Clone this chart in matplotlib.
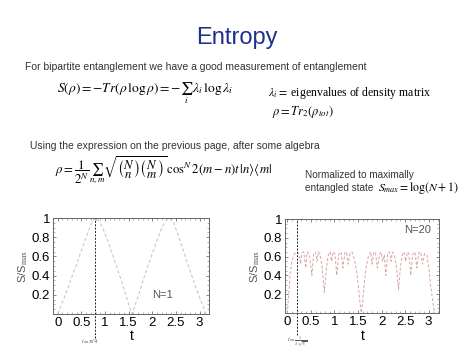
import matplotlib
matplotlib.use("Agg")
from matplotlib import pyplot as plt

plt.rcParams['font.family'] = ['Liberation Sans', 'DejaVu Sans']
plt.rcParams['mathtext.fontset'] = 'stix'

# N=1 curve
t1 = [0.0, 0.1, 0.2, 0.3, 0.4, 0.5, 0.6, 0.7, 0.785, 0.87, 0.95, 1.05, 1.15, 1.25, 1.35, 1.45, 1.52, 1.57,
      1.62, 1.7, 1.8, 1.9, 2.0, 2.1, 2.2, 2.3, 2.36, 2.45, 2.55, 2.65, 2.75, 2.85, 2.95, 3.05, 3.14]
s1 = [0.0, 0.12, 0.25, 0.39, 0.52, 0.66, 0.8, 0.93, 1.0, 0.97, 0.9, 0.77, 0.63, 0.49, 0.34, 0.18, 0.07, 0.0,
      0.07, 0.18, 0.34, 0.49, 0.63, 0.77, 0.9, 0.98, 1.0, 0.95, 0.82, 0.67, 0.52, 0.38, 0.24, 0.11, 0.0]

# N=20 curve
t20 = [0.0, 0.03, 0.06, 0.1, 0.15, 0.2, 0.25, 0.28, 0.31, 0.35, 0.39, 0.42, 0.47, 0.52, 0.56, 0.6, 0.63,
       0.66, 0.7, 0.74, 0.785, 0.83, 0.87, 0.91, 0.94, 0.97, 1.01, 1.05, 1.09, 1.14, 1.18, 1.22, 1.26, 1.29,
       1.33, 1.37, 1.42, 1.47, 1.51, 1.54, 1.57,
       1.6, 1.63, 1.67, 1.72, 1.77, 1.8, 1.83, 1.87, 1.91, 1.96, 1.99, 2.02, 2.06, 2.09, 2.13, 2.17,
       2.2, 2.23, 2.28, 2.32, 2.36, 2.4, 2.44, 2.48, 2.51, 2.55, 2.58, 2.62, 2.66, 2.71, 2.75, 2.79,
       2.83, 2.87, 2.91, 2.96, 3.0, 3.04, 3.08, 3.11, 3.14]
s20 = [0.0, 0.2, 0.42, 0.56, 0.63, 0.65, 0.63, 0.52, 0.64, 0.65, 0.48, 0.65, 0.62, 0.4, 0.63, 0.65, 0.55,
       0.65, 0.62, 0.48, 0.22, 0.48, 0.62, 0.65, 0.55, 0.65, 0.63, 0.4, 0.62, 0.65, 0.48, 0.64, 0.65, 0.52,
       0.63, 0.65, 0.58, 0.45, 0.28, 0.12, 0.0,
       0.12, 0.3, 0.48, 0.6, 0.65, 0.52, 0.64, 0.65, 0.48, 0.63, 0.65, 0.55, 0.62, 0.4, 0.63, 0.65,
       0.55, 0.65, 0.6, 0.48, 0.25, 0.48, 0.62, 0.65, 0.55, 0.65, 0.63, 0.4, 0.62, 0.65, 0.48, 0.64,
       0.65, 0.52, 0.63, 0.62, 0.5, 0.3, 0.15, 0.05, 0.0]

xticks = [0, 0.5, 1, 1.5, 2, 2.5, 3]
xticklabels = ["0", "0.5", "1", "1.5", "2", "2.5", "3"]
yticks = [0.2, 0.4, 0.6, 0.8, 1]
yticklabels = ["0.2", "0.4", "0.6", "0.8", "1"]

W, H = 474, 355
fig = plt.figure(figsize=(4.74, 3.55), dpi=100)


def fx(px):
    return px / W


def fy(py):
    return 1 - py / H


txt = '#333333'
fig.text(fx(237), fy(38), "Entropy", fontsize=17, color='#1f2f8f', ha='center', va='center')
fig.text(fx(25), fy(67), "For bipartite entanglement we have a good measurement of entanglement",
         fontsize=7.5, color=txt, va='center')
fig.text(fx(57), fy(93), r"$S(\rho)=-Tr(\rho\,\log\rho)=-\sum_i\,\lambda_i\,\log\lambda_i$",
         fontsize=9.7, va='center', color='black')
fig.text(fx(268), fy(93), r"$\lambda_i=$ eigenvalues of density matrix", fontsize=8.5, va='center',
         family='Liberation Serif', color='black')
fig.text(fx(272), fy(112), r"$\rho=Tr_2(\rho_{tot})$", fontsize=9, va='center', color='black')
fig.text(fx(30), fy(146), "Using the expression on the previous page, after some algebra",
         fontsize=7.5, color=txt, va='center')
fig.text(fx(55), fy(170),
         r"$\rho=\genfrac{}{}{0.5}{0}{1}{2^N}\sum_{n,m}\sqrt{\genfrac{(}{)}{0}{0}{N}{n}\genfrac{(}{)}{0}{0}{N}{m}}"
         r"\,\cos^N 2(m-n)t\,|n\rangle\langle m|$",
         fontsize=9.2, va='center', color='black')
fig.text(fx(305), fy(175), "Normalized to maximally", fontsize=7.2, color=txt, va='center')
fig.text(fx(305), fy(188), "entangled state", fontsize=7.2, color=txt, va='center')
fig.text(fx(378), fy(188), r"$S_{max}=\log(N+1)$", fontsize=8.5, color='black', va='center')


def setup(ax, xmin, xmax):
    ax.set_xlim(xmin, xmax)
    ax.set_ylim(0, 1)
    ax.set_xticks(xticks)
    ax.set_xticklabels(xticklabels)
    ax.set_yticks(yticks)
    ax.set_yticklabels(yticklabels)
    ax.tick_params(labelsize=9.5, length=2, width=0.5, direction='in', pad=2, colors='#555555',
                   labelcolor='black', top=True, right=True)
    ax.minorticks_on()
    ax.tick_params(which='minor', length=1.2, width=0.4, direction='in', colors='#777777',
                   top=True, right=True)
    for s in ax.spines.values():
        s.set_color('#666666')
        s.set_linewidth(0.7)
    ax.set_ylabel(r"S/S$_{\rm max}$", fontsize=8, color='#555555', labelpad=1)


ax1 = fig.add_axes([fx(53), fy(314), fx(156), 96 / H])
setup(ax1, -0.1, 3.2)
ax1.plot(t1, s1, color='#c8c8c8', lw=0.8, ls=(0, (3, 2)))
ax1.axvline(0.785, ymin=-0.25, ymax=1, color='#222222', lw=0.7, ls=(0, (2, 1.5)), clip_on=False)
ax1.text(2.22, 0.2, "N=1", fontsize=8, color='#555555', ha='center', va='center')
fig.text(fx(132), fy(336), "t", fontsize=10, ha='center', va='center')
fig.text(fx(90), fy(341), r"$t=\pi/4$", fontsize=4.5, color='#555555', ha='center', va='center')

ax2 = fig.add_axes([fx(285), fy(313), fx(154), 94 / H])
setup(ax2, -0.05, 3.22)
ax2.plot(t20, s20, color='#d8a4a4', lw=0.7, ls=(0, (3, 2)))
ax2.axvline(0.2, ymin=-0.23, ymax=1, color='#222222', lw=0.7, ls=(0, (2, 1.5)), clip_on=False)
ax2.text(2.76, 0.88, "N=20", fontsize=8, color='#555555', ha='center', va='center')
fig.text(fx(363), fy(336), "t", fontsize=10, ha='center', va='center')
fig.text(fx(297), fy(342), r"$t=\frac{1}{2\sqrt{N}}$", fontsize=4.5, color='#555555', ha='center', va='center')

fig.savefig("out.png", dpi=100)
